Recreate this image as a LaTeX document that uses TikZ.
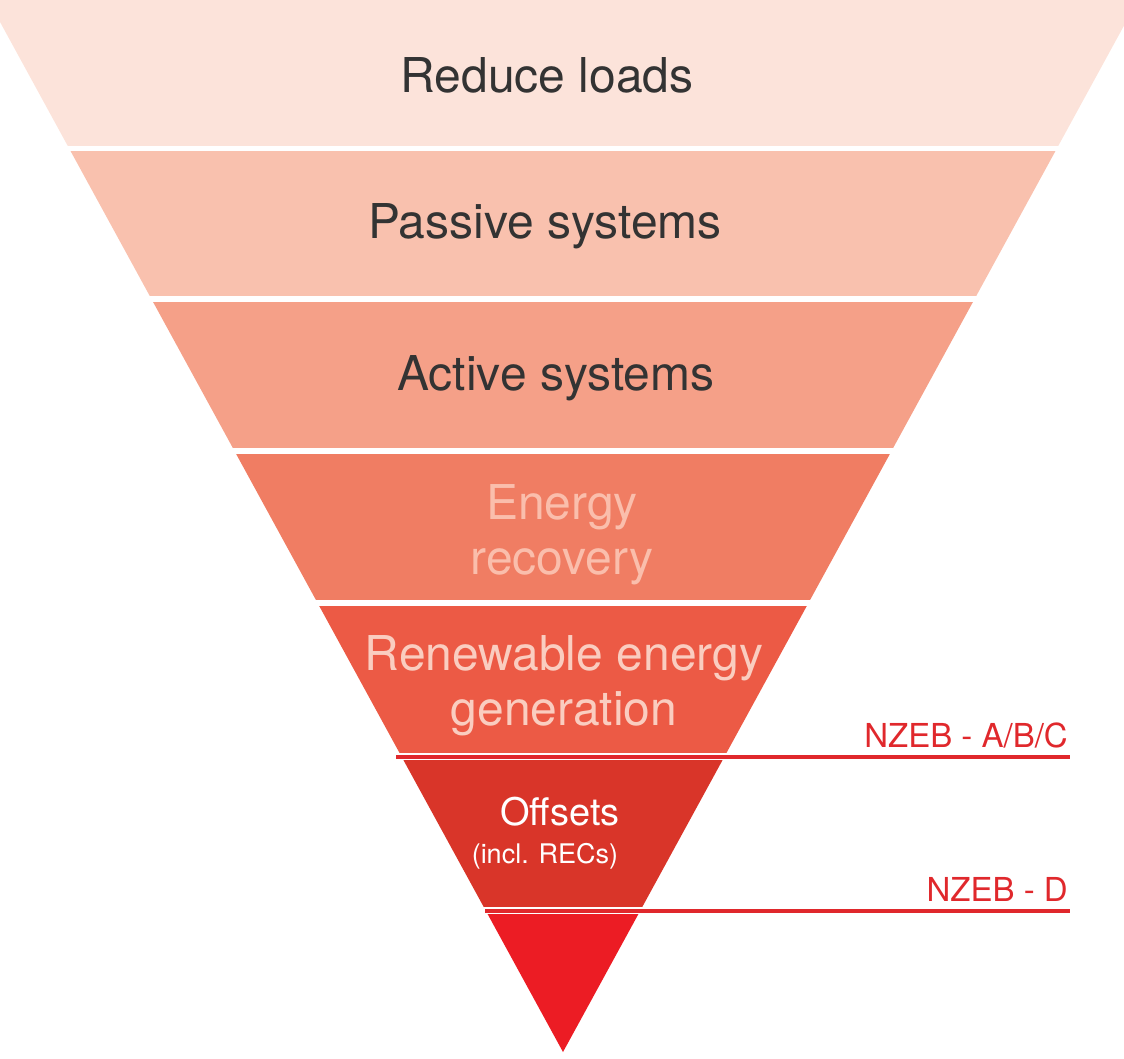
\documentclass[tikz,border=0pt]{standalone}
\usepackage{fontspec}
\setmainfont{TeX Gyre Heros}
\definecolor{b1}{HTML}{FCE3DA}
\definecolor{b2}{HTML}{F9C1AE}
\definecolor{b3}{HTML}{F5A088}
\definecolor{b4}{HTML}{F07D63}
\definecolor{b5}{HTML}{EC5A45}
\definecolor{b6}{HTML}{D93529}
\definecolor{b7}{HTML}{EC1C24}
\definecolor{lr}{HTML}{E0282C}
\definecolor{dk}{HTML}{333333}
\begin{document}
\begin{tikzpicture}[x=1pt,y=-1pt,
  lbl/.style={font=\fontsize{48}{55}\selectfont,align=center,inner sep=0},
  nz/.style={font=\fontsize{33}{38}\selectfont,text=lr,anchor=south east,inner sep=0}]
\useasboundingbox (0,0) rectangle (1124,1058);
\begin{scope}
\clip (-12,0) -- (1138,0) -- (563,1052) -- cycle;
\fill[b1] (0,0) rectangle (1124,146);
\fill[b2] (0,151) rectangle (1124,296);
\fill[b3] (0,302) rectangle (1124,448);
\fill[b4] (0,454) rectangle (1124,600);
\fill[b5] (0,606) rectangle (1124,753);
\fill[b6] (0,760) rectangle (1124,907);
\fill[b7] (0,914) rectangle (1124,1058);
\end{scope}
\node[lbl,text=dk] (t1) at (547,75) {Reduce loads};
\node[lbl,text=dk] (t2) at (545,226) {Passive systems};
\node[lbl,text=dk] (t3) at (556,378) {Active systems};
\node[lbl,text={rgb,255:red,250;green,190;blue,172}] (t4) at (562,535) {Energy\\recovery};
\node[lbl,text={rgb,255:red,250;green,205;blue,192}] (t5) at (564,686) {Renewable energy\\generation};
\node[font=\fontsize{38}{44}\selectfont,text=white,inner sep=0] (t6) at (560,812) {Offsets};
\node[font=\fontsize{27}{32}\selectfont,text=white,inner sep=0] (t7) at (545,856) {(incl. RECs)};
\coordinate (a1) at (396,757);
\coordinate (a2) at (1070,757);
\coordinate (d1) at (485,911);
\coordinate (d2) at (1070,911);
\draw[lr,line width=3.5] (a1) -- (a2);
\draw[lr,line width=3.5] (d1) -- (d2);
\node[nz] (n1) at (1068,748) {NZEB - A/B/C};
\node[nz] (n2) at (1068,902) {NZEB - D};
\end{tikzpicture}
\end{document}
